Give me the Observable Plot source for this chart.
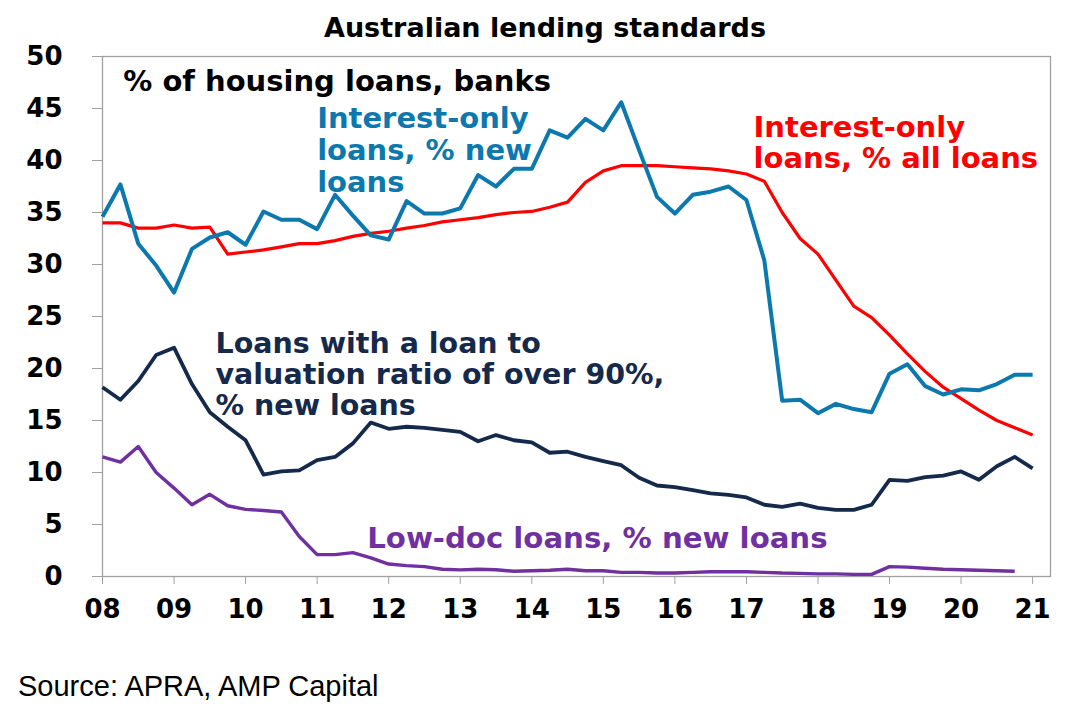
<!DOCTYPE html>
<html><head><meta charset="utf-8">
<script src="https://cdn.jsdelivr.net/npm/d3@7"></script>
<script src="https://cdn.jsdelivr.net/npm/@observablehq/plot@0.6"></script>
<style>
body{margin:0;background:#fff;}
#wrap{position:relative;width:1083px;height:716px;overflow:hidden;background:#fff;}
#title{position:absolute;z-index:2;left:0;top:6px;width:1090px;text-align:center;font-family:"DejaVu Sans";font-weight:bold;font-size:27px;line-height:44px;color:#000;}
#chart{position:absolute;z-index:1;left:0;top:40px;}
#caption{position:absolute;z-index:2;left:18px;top:672px;font-family:"Liberation Sans";font-size:29px;line-height:29px;color:#000;white-space:nowrap;}
</style>
</head><body>
<div id="wrap">
  <div id="title">Australian lending standards</div>
  <div id="chart"></div>
  <div id="caption">Source: APRA, AMP Capital</div>
</div>
<script>
// Quarterly observations, 2008 Q1 to 2021 Q1
const startYear = 2008;
const ioNewLoans = [34.6,37.7,32.0,29.9, 27.3,31.5,32.6,33.1, 31.9,35.1,34.3,34.3, 33.4,36.7,34.7,32.8,
  32.4,36.1,34.9,34.9, 35.4,38.6,37.5,39.2, 39.2,42.9,42.2,44.0, 42.9,45.6,41.0,36.5,
  34.9,36.7,37.0,37.5, 36.2,30.4,16.9,17.0, 15.7,16.6,16.1,15.8, 19.5,20.4,18.3,17.5,
  18.0,17.9,18.5,19.4, 19.4];
const ioAllLoans = [34.0,34.0,33.5,33.5, 33.8,33.5,33.6,31.0, 31.2,31.4,31.7,32.0, 32.0,32.3,32.7,33.0,
  33.2,33.5,33.75,34.1, 34.3,34.5,34.8,35.0, 35.1,35.5,36.0,37.9, 39.0,39.5,39.5,39.5,
  39.4,39.3,39.2,39.0, 38.7,38.0,35.0,32.5, 31.0,28.5,26.0,24.9, 23.2,21.4,19.7,18.2,
  17.1,16.0,15.0,14.3, 13.6];
const lvrOver90 = [18.2,17.0,18.8,21.3, 22.0,18.5,15.8,14.4, 13.1,9.8,10.1,10.2, 11.2,11.5,12.8,14.8,
  14.2,14.4,14.3,14.1, 13.9,13.0,13.6,13.1, 12.9,11.9,12.0,11.5, 11.1,10.7,9.5,8.75,
  8.6,8.3,8.0,7.85, 7.6,6.9,6.7,7.0, 6.6,6.4,6.4,6.9, 9.3,9.2,9.55,9.7,
  10.1,9.3,10.6,11.5, 10.4];
const lowDoc = [11.5,11.0,12.5,10.0, 8.5,6.9,7.9,6.8, 6.45,6.35,6.2,3.85, 2.1,2.1,2.3,1.8,
  1.2,1.05,0.95,0.7, 0.64,0.7,0.65,0.5, 0.55,0.6,0.7,0.55, 0.55,0.4,0.4,0.33,
  0.33,0.4,0.45,0.45, 0.45,0.4,0.33,0.3, 0.25,0.25,0.2,0.2, 0.95,0.9,0.8,0.7,
  0.65,0.6,0.55,0.5, null];

const xTicks = [2008,2009,2010,2011,2012,2013,2014,2015,2016,2017,2018,2019,2020,2021];
const xTickLabels = ["08","09","10","11","12","13","14","15","16","17","18","19","20","21"];
const yTicks = [0,5,10,15,20,25,30,35,40,45,50];

const seriesNames = ["ioAll","ioNew","lvr","lowdoc"];
const seriesColors = ["#ff0000","#0b78ae","#15294b","#7030a0"];
const seriesWidths = [3.2,4,3.8,3.4];
const seriesValues = [ioAllLoans, ioNewLoans, lvrOver90, lowDoc];

// annotations (anchored at top-left of text, in data coordinates)
const noteText = ["% of housing loans, banks",
  "Interest-only\nloans, % new\nloans",
  "Interest-only\nloans, % all loans",
  "Loans with a loan to\nvaluation ratio of over 90%,\n% new loans",
  "Low-doc loans, % new loans"];
const noteX = [2008.29, 2011.0, 2017.1, 2009.58, 2011.7];
const noteY = [48.85, 45.3, 44.35, 23.55, 4.9];
const noteColor = ["#000000","#0b78ae","#ff0000","#15294b","#7030a0"];
const noteSize = [29, 29, 29, 28.5, 29.2];
const noteLineHeight = [1.1, 1.1, 1.06, 1.08, 1.1];

const quarterX = ioNewLoans.map((_, i) => startYear + i / 4);

const lineMarks = seriesValues.map((vals, s) =>
  Plot.line(vals.map((v, i) => ({x: quarterX[i], y: v})).filter(d => d.y != null), {
    x: "x", y: "y", stroke: seriesColors[s], strokeWidth: seriesWidths[s],
    strokeLinejoin: "round", strokeLinecap: "butt"
  }));

const noteMarks = noteText.map((t, i) => Plot.text([{x: noteX[i], y: noteY[i], t}], {
  x: "x", y: "y", text: "t", fill: noteColor[i], textAnchor: "start", lineAnchor: "top",
  fontSize: noteSize[i], fontWeight: "bold", lineHeight: noteLineHeight[i], fontFamily: "DejaVu Sans"
}));

const chart = Plot.plot({
  width: 1083,
  height: 580,
  marginLeft: 102,
  marginRight: 33,
  marginTop: 16,
  marginBottom: 44,
  style: {fontFamily: "DejaVu Sans", fontSize: "26px", fontWeight: "bold", background: "transparent", overflow: "visible", color: "#000"},
  x: {domain: [2008, 2021.25]},
  y: {domain: [0, 50]},
  marks: [
    Plot.frame({stroke: "#a0a0a0", strokeWidth: 1.3}),
    Plot.axisY({ticks: yTicks, tickSize: 10, tickPadding: 30, stroke: "#a0a0a0", fill: "#000", label: null, fontSize: 26}),
    Plot.axisX({ticks: xTicks, tickFormat: d => xTickLabels[xTicks.indexOf(d)], tickSize: 8, tickPadding: 15, stroke: "#a0a0a0", fill: "#000", label: null, fontSize: 26}),
    ...lineMarks,
    ...noteMarks
  ]
});
document.getElementById("chart").appendChild(chart);
</script>
</body></html>
